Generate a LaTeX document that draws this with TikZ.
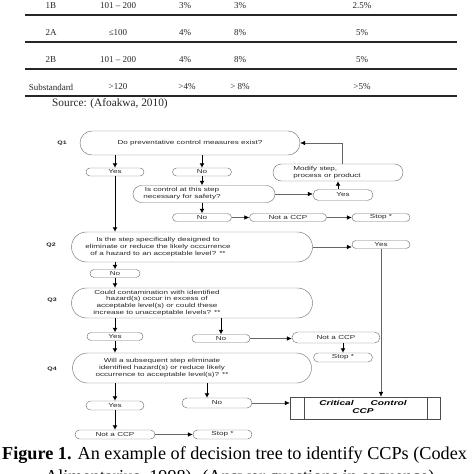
\documentclass[tikz,border=0pt]{standalone}
\usepackage{fontspec}
\setmainfont{Liberation Serif}
\newfontfamily\ff[FakeStretch=1.4]{Liberation Sans}
\newfontfamily\ffw[FakeStretch=1.45]{Liberation Sans}
\usetikzlibrary{shapes.misc,arrows.meta}
\newcommand\padr[2]{\begin{tabular}{@{}c@{}}#2\end{tabular}\hspace*{#1}}
\tikzset{
  fbox/.style={rounded rectangle, draw=black!55, line width=0.45pt, inner sep=0pt,
    font=\ff\fontsize{5.8}{6.7}\selectfont, text=black!85},
  qlab/.style={font=\ff\bfseries\fontsize{5}{6}\selectfont, text=black!85, inner sep=0pt},
  varr/.style={draw=black, line width=1pt, -{Latex[length=4.5pt,width=5pt]}},
  harr/.style={draw=black!60, line width=0.5pt, -{Latex[length=5pt,width=4.5pt,color=black]}},
  tline/.style={draw=black!85, line width=1.1pt},
  tcell/.style={font=\fontsize{9}{10}\selectfont, inner sep=0pt, text=black!85},
}
\begin{document}
\begin{tikzpicture}[x=1pt,y=-1pt]
\useasboundingbox (0,0) rectangle (474,474);
\begin{scope}
\clip (0,0) rectangle (474,474);
% ---------- table ----------
\draw[tline] (25,15) -- (457,15);
\draw[tline] (25,42) -- (457,42);
\draw[tline] (25,69) -- (457,69);
\draw[tline] (25,96) -- (457,96);
\node[tcell] (r1a) at (51,6) {1B};
\node[tcell] (r1b) at (118,6) {101 – 200};
\node[tcell] (r1c) at (185,6) {3\%};
\node[tcell] (r1d) at (240,6) {3\%};
\node[tcell] (r1e) at (362,6) {2.5\%};
\node[tcell] (r2a) at (51,33) {2A};
\node[tcell] (r2b) at (118,33) {≤100};
\node[tcell] (r2c) at (185,33) {4\%};
\node[tcell] (r2d) at (240,33) {8\%};
\node[tcell] (r2e) at (362,33) {5\%};
\node[tcell] (r3a) at (51,60) {2B};
\node[tcell] (r3b) at (118,60) {101 – 200};
\node[tcell] (r3c) at (185,60) {4\%};
\node[tcell] (r3d) at (240,60) {8\%};
\node[tcell] (r3e) at (362,60) {5\%};
\node[tcell] (r4a) at (51,87) {Substandard};
\node[tcell] (r4b) at (118,87) {>120};
\node[tcell] (r4c) at (187,87) {>4\%};
\node[tcell] (r4d) at (240,87) {> 8\%};
\node[tcell] (r4e) at (362,87) {>5\%};
\node[anchor=west, inner sep=0pt, font=\fontsize{11.3}{13}\selectfont, text=black!85] (src) at (52,104) {Source: (Afoakwa, 2010)};
% ---------- flowchart ----------
\node[qlab] (l1) at (62,143) {Q1};
\node[qlab] (l2) at (51,245) {Q2};
\node[qlab] (l3) at (52,300) {Q3};
\node[qlab] (l4) at (52,369) {Q4};

\node[fbox, minimum width=220pt, minimum height=24pt] (q1) at (190,143) {Do preventative control measures exist?};
\node[fbox, minimum width=58pt, minimum height=8pt] (yes1) at (115,172) {Yes};
\node[fbox, minimum width=59pt, minimum height=8pt] (no1) at (202,172) {No};
\node[fbox, minimum width=142pt, minimum height=17pt] (ctrl) at (204,194) {\padr{44pt}{Is control at this step\\necessary for safety?}};
\node[fbox, minimum width=60pt, minimum height=11pt] (yes2) at (343,195) {Yes};
\node[fbox, minimum width=130pt, minimum height=17pt] (mod) at (338,172.5) {\begin{tabular}{@{}l@{}}Modify step,\\process or product\end{tabular}\hspace*{22pt}};
\node[fbox, minimum width=59pt, minimum height=8pt] (no2) at (202,217.5) {No};
\node[fbox, minimum width=77pt, minimum height=8pt] (nc1) at (288,217.5) {Not a CCP};
\node[fbox, minimum width=58pt, minimum height=8pt] (st1) at (381,217.5) {Stop *};

\node[fbox, minimum width=241pt, minimum height=30pt] (q2) at (192,247) {\padr{68pt}{Is the step specifically designed to\\eliminate or reduce the likely occurrence\\of a hazard to an acceptable level? **}};
\node[fbox, minimum width=58pt, minimum height=8pt] (yes3) at (381,244.5) {Yes};
\node[fbox, minimum width=50pt, minimum height=8pt] (no3) at (115,273.5) {No};

\node[fbox, minimum width=241pt, minimum height=30pt] (q3) at (192,303) {\padr{70pt}{Could contamination with identified\\hazard(s) occur in excess of\\acceptable level(s) or could these\\increase to unacceptable levels? **}};
\node[fbox, minimum width=56pt, minimum height=8pt] (yes4) at (115,336.5) {Yes};
\node[fbox, minimum width=58pt, minimum height=8pt] (no4) at (221,338.5) {No};
\node[fbox, minimum width=88pt, minimum height=11pt] (nc2) at (336,337.5) {Not a CCP};
\node[fbox, minimum width=59pt, minimum height=9pt] (st2) at (343,357.5) {Stop *};

\node[fbox, minimum width=239pt, minimum height=30pt] (q4) at (192,368) {\padr{60pt}{Will a subsequent step eliminate\\identified hazard(s) or reduce likely\\occurrence to acceptable level(s)? **}};
\node[fbox, minimum width=58pt, minimum height=9pt] (yes5) at (115,405.5) {Yes};
\node[fbox, minimum width=70pt, minimum height=10pt] (no5) at (217,403) {No};
\node[draw=black!70, line width=0.5pt, minimum width=150pt, minimum height=22pt, inner sep=0pt,
  font=\ffw\bfseries\itshape\fontsize{7}{8.5}\selectfont] (ccp) at (365,408)
  {\begin{tabular}{@{}c@{}}Critical\hspace{17pt}Control\\CCP\end{tabular}\hspace*{4pt}};
\draw[draw=black!70, line width=0.5pt] ([xshift=14pt]ccp.north west) -- ([xshift=14pt]ccp.south west);
\draw[draw=black!70, line width=0.5pt] ([xshift=-13pt]ccp.north east) -- ([xshift=-13pt]ccp.south east);
\node[fbox, minimum width=80pt, minimum height=9pt] (nc3) at (115,434.5) {Not a CCP};
\node[fbox, minimum width=59pt, minimum height=9pt] (st3) at (222.5,434.5) {Stop *};

% connectors
\draw[varr] (yes1 |- q1.south) -- (yes1.north);
\draw[varr] (no1 |- q1.south) -- (no1.north);
\draw[varr] (no1.south) -- (no1.south |- ctrl.north);
\draw[harr] (ctrl.east) -- (ctrl.east -| yes2.west);
\draw[varr] (mod.south |- yes2.north) -- (mod.south);
\draw[harr] ([xshift=4pt]mod.north) |- (q1.east);
\draw[varr] (no2 |- ctrl.south) -- (no2.north);
\draw[harr] (no2.east) -- (nc1.west);
\draw[harr] (nc1.east) -- (st1.west);
\draw[varr] (yes1.south) -- (yes1.south |- q2.north);
\draw[harr] (q2.east) -- (q2.east -| yes3.west);
\draw[harr] (yes3.south) -- (yes3.south |- ccp.north);
\draw[varr] (no3 |- q2.south) -- (no3.north);
\draw[varr] (no3.south) -- (no3.south |- q3.north);
\draw[varr] (yes4 |- q3.south) -- (yes4.north);
\draw[varr] (no4 |- q3.south) -- (no4.north);
\draw[harr] (no4.east) -- (no4.east -| nc2.west);
\draw[varr] (st2.north |- nc2.south) -- (st2.north);
\draw[varr] (yes4.south) -- (yes4.south |- q4.north);
\draw[varr] (yes5 |- q4.south) -- (yes5.north);
\draw[varr] ([xshift=-10pt]no5.north |- q4.south) -- ([xshift=-10pt]no5.north);
\draw[harr] (no5.east) -- (no5.east -| ccp.west);
\draw[varr] (yes5.south) -- (yes5.south |- nc3.north);
\draw[harr] (nc3.east) -- (st3.west);

% ---------- caption ----------
\node[anchor=base west, inner sep=0pt, font=\fontsize{18.2}{21}\selectfont, text=black] (cap1) at (2,459)
  {\textbf{Figure 1.} An example of decision tree to identify CCPs (Codex};
\node[anchor=base west, inner sep=0pt, font=\fontsize{18.2}{21}\selectfont, text=black] (cap2) at (45,482)
  {Alimentarius, 1998). (Answer questions in sequence)};
\end{scope}
\end{tikzpicture}
\end{document}
